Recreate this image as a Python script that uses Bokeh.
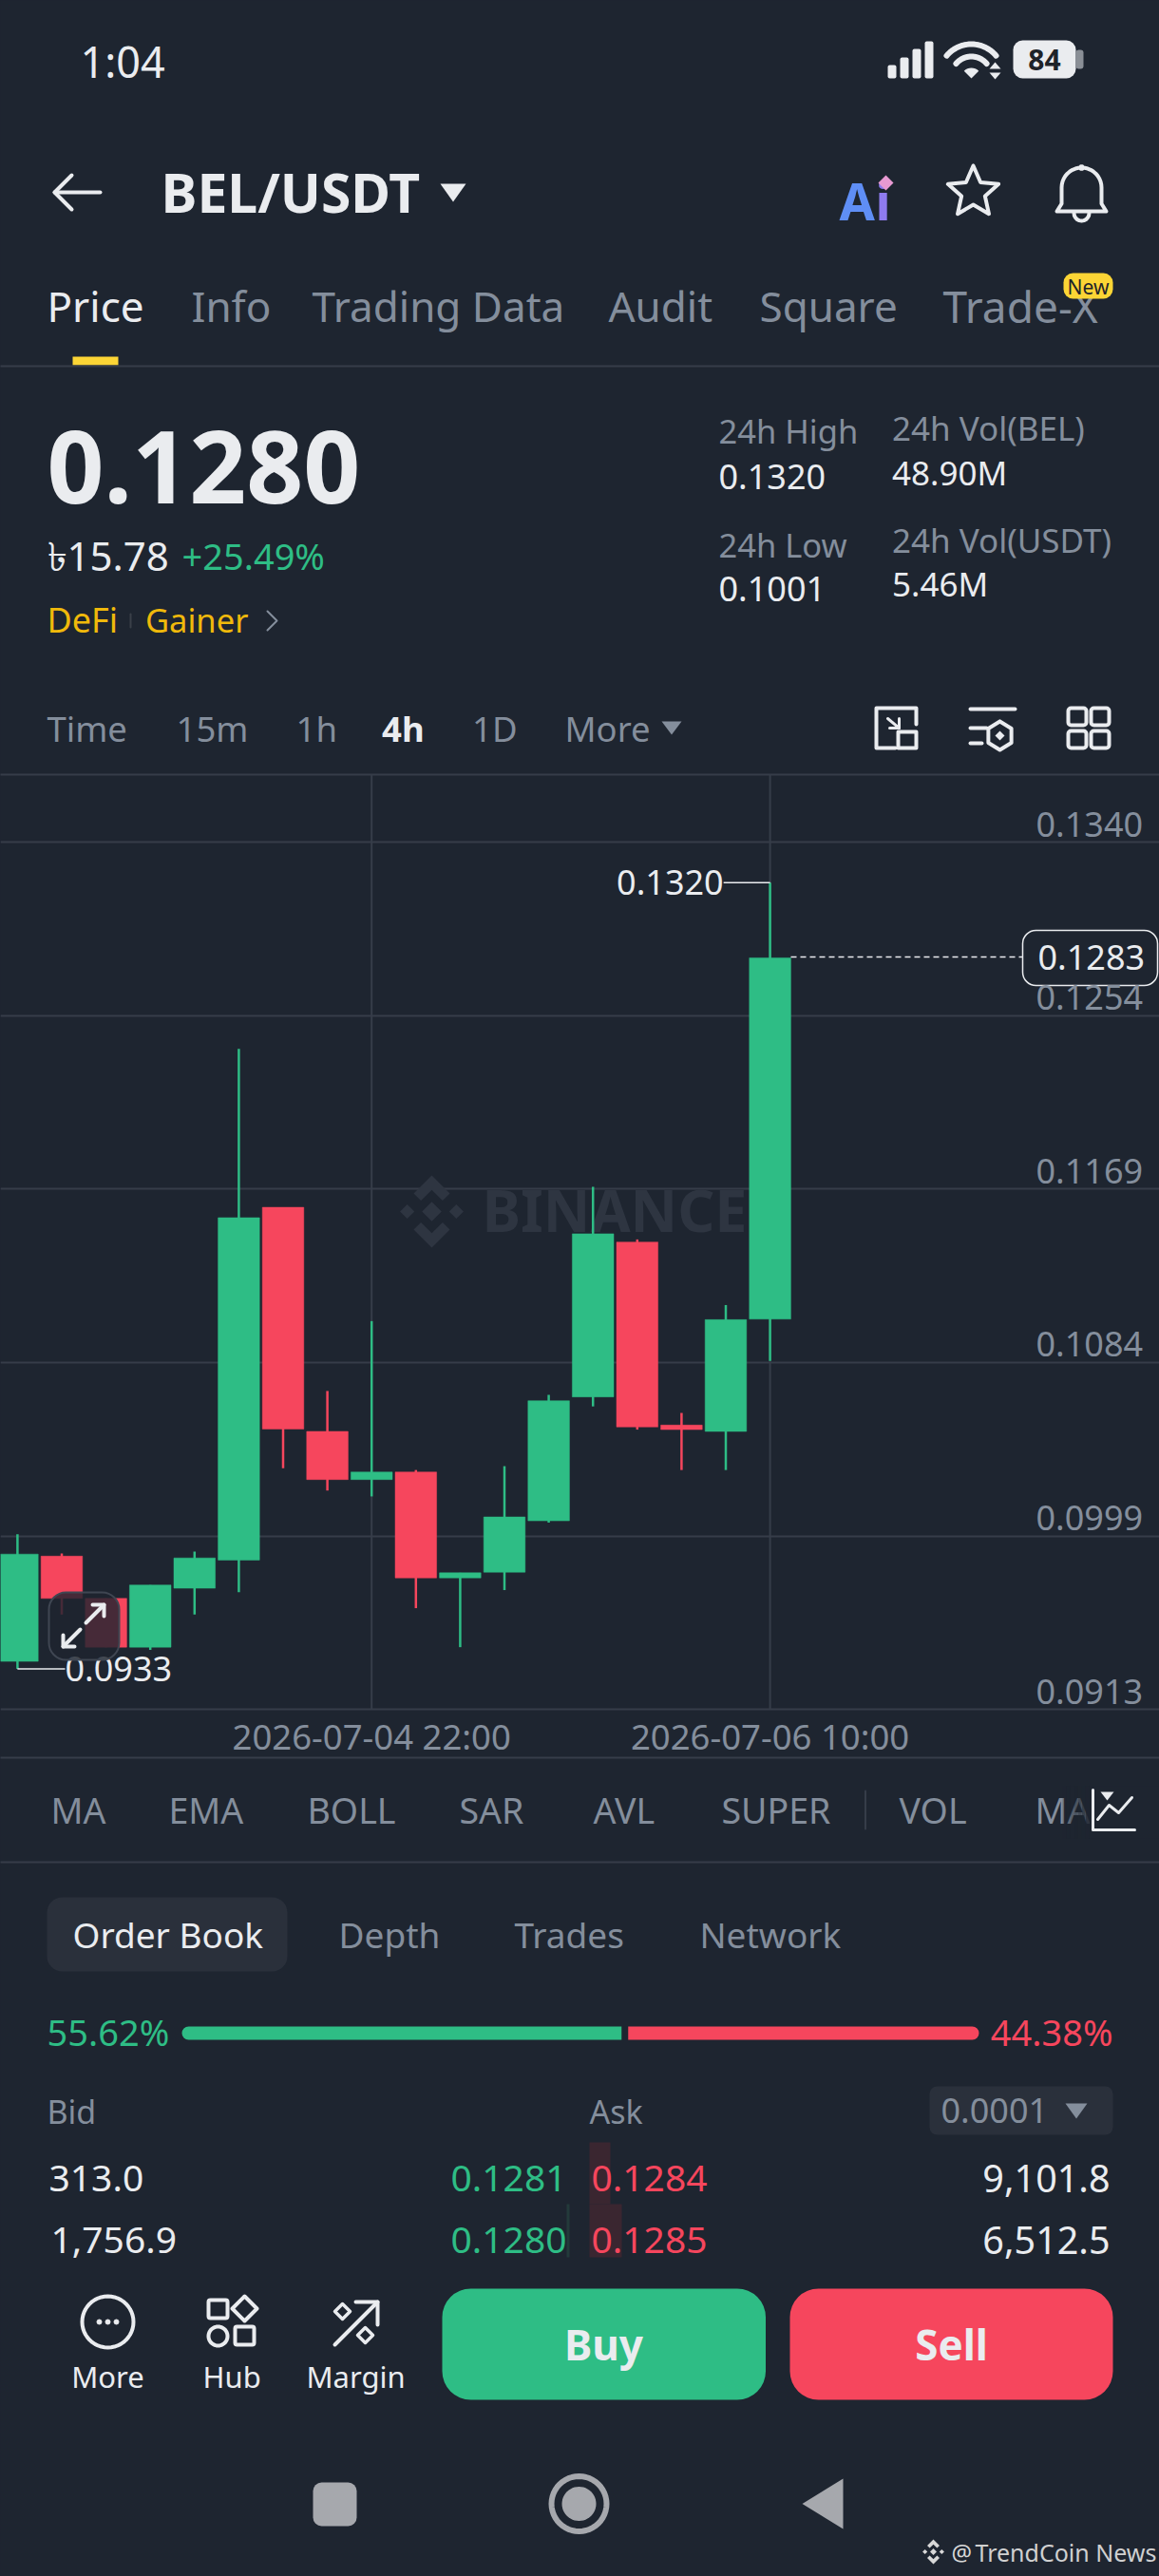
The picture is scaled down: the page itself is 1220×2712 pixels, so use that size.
import math
from bokeh.plotting import figure
from bokeh.embed import file_html
from bokeh.resources import INLINE
from bokeh.core.properties import value
from bokeh.models import Range1d, LinearAxis, FixedTicker, Grid, ColumnDataSource

# ---- chart data ----
candle_index = list(range(18))
candle_open  = [0.09367,0.09885,0.09677,0.09437,0.09727,0.09866,0.11602,0.10499,0.10262,0.10299,0.09778,0.09806,0.10059,0.10669,0.11431,0.1053,0.10499,0.11052]
candle_close = [0.09895,0.09677,0.09437,0.09743,0.09876,0.11551,0.10511,0.10262,0.10299,0.09778,0.09803,0.10078,0.1065,0.11472,0.10521,0.10508,0.11049,0.1283]
candle_high  = [0.09993,0.09898,0.09677,0.09743,0.09908,0.12382,0.11602,0.10698,0.11042,0.10309,0.09803,0.10328,0.10679,0.11703,0.11444,0.1059,0.11121,0.1320]
candle_low   = [0.0933,0.09598,0.09437,0.09424,0.09598,0.09708,0.10318,0.10208,0.10179,0.09629,0.09437,0.09718,0.1005,0.10622,0.10508,0.10309,0.10309,0.10846]
price_ticks  = [0.1340,0.12546,0.11692,0.10838,0.09984,0.0913]
price_labels = ["0.1340","0.1254","0.1169","0.1084","0.0999","0.0913"]
time_ticks   = [8,17]
time_labels  = ["2026-07-04 22:00","2026-07-06 10:00"]
last_price = 0.1283
high_price = 0.1320
low_price = 0.0933
tabs = ["Price","Info","Trading Data","Audit","Square","Trade-X"]
intervals = ["Time","15m","1h","4h","1D","More"]
indicators = ["MA","EMA","BOLL","SAR","AVL","SUPER","VOL","MA"]
book_tabs = ["Order Book","Depth","Trades","Network"]
bid_qty = ["313.0","1,756.9"]
bid_price = ["0.1281","0.1280"]
ask_price = ["0.1284","0.1285"]
ask_qty = ["9,101.8","6,512.5"]
bid_share = 55.62
ask_share = 44.38

# ---- colours ----
BG="#1E2530"; WHITE="#EAECEF"; GRAY="#848E9C"; GREEN="#2EBD85"; RED="#F6465D"; YEL="#F0B90B"; LINE="#363D49"; PILL="#2A303B"
FONT=value("Noto Sans")

W,H=1220,2712
p=figure(width=W,height=H,x_range=Range1d(0,W),y_range=Range1d(H,0),x_axis_type=None,y_axis_type=None,
         min_border=0,toolbar_location=None,output_backend="svg",background_fill_color=BG,border_fill_color=BG,outline_line_color=None)
p.xgrid.visible=False; p.ygrid.visible=False

# secondary scales: price and candle index, tied to the page's pixel grid
k=(0.1340-0.0913)/(1799.3-886.0)
p.extra_y_ranges={"price":Range1d(0.0913-(H-1799.3)*k,0.1340+886.0*k),
                  "price_label":Range1d(0.0913-(H-1799.3+19.0)*k,0.1340+(886.0-19.0)*k)}
dx=46.6; x0=17.9
p.extra_x_ranges={"idx":Range1d((0-x0)/dx,(W-x0)/dx)}

def T(x,y,s,size,color=WHITE,align="left",bold=False,font=FONT):
    p.text(x=[x],y=[y-2],text=[s],text_font=font,text_font_size=f"{size}px",text_color=color,text_align=align,
           text_baseline="middle",text_font_style="bold" if bold else "normal")
def L(xs,ys,color=WHITE,w=4,dash="solid"):
    p.line(xs,ys,line_color=color,line_width=w,line_dash=dash,line_cap="round",line_join="round")
def R(l,r,t,b,fill,radius=0,line=None,lw=1,alpha=1.0):
    p.quad(left=[l],right=[r],top=[t],bottom=[b],fill_color=fill,fill_alpha=alpha,line_color=line,line_width=lw,border_radius=radius)
def P(xs,ys,fill,line=None,lw=1):
    p.patch(xs,ys,fill_color=fill,line_color=line,line_width=lw,line_join="round")
def circ(cx,cy,r,a0=0,a1=360,n=48):
    return ([cx+r*math.cos(math.radians(a0+(a1-a0)*i/n)) for i in range(n+1)],
            [cy+r*math.sin(math.radians(a0+(a1-a0)*i/n)) for i in range(n+1)])
def dia(cx,cy,r):
    return [cx,cx+r,cx,cx-r],[cy-r,cy,cy+r,cy]
def logo(cx,cy,s,color):
    for (a,b,r) in [(0,0,.27),(-.68,0,.2),(.68,0,.2)]:
        x,y=dia(cx+a*s,cy+b*s,r*s); P(x,y,color)
    P([cx,cx+.5*s,cx+.3*s,cx,cx-.3*s,cx-.5*s],[cy-s,cy-.5*s,cy-.3*s,cy-.6*s,cy-.3*s,cy-.5*s],color)
    P([cx,cx+.5*s,cx+.3*s,cx,cx-.3*s,cx-.5*s],[cy+s,cy+.5*s,cy+.3*s,cy+.6*s,cy+.3*s,cy+.5*s],color)

# ---- status bar ----
T(84,66,"1:04",45,WHITE)
for bx_,bt in zip([934,947,960,973],[68,60,51,43]):
    R(bx_,bx_+9,bt,82,WHITE,radius=2)
for r in (34,21):
    x,y=circ(1022,80,r,-140,-40,24); L(x,y,WHITE,6)
x,y=circ(1022,82,11,-135,-45,8); P(x+[1022],y+[82],WHITE)
P([1041,1047,1053],[72,65,72],WHITE); P([1041,1047,1053],[76,83,76],WHITE)
R(1066,1132,42,82,WHITE,radius=10)
R(1132,1140,52,72,"#8A8F96",radius=3)
T(1099,64,"84",30,"#1E2329","center",True)

# ---- header ----
L([105,57],[202,202]); L([75,57,75],[184,202,220])
T(169,203,"BEL/USDT",57,WHITE,bold=True)
P([463,490,476.5],[193,193,212],WHITE)
T(883,212,"A",54,"#5F8EF5",bold=True); T(921,212,"i",54,"#8F7BEF",bold=True)
x,y=dia(932,192,8); P(x,y,"#E79AD2")
sx=[1024+(28 if i%2==0 else 13)*math.sin(math.pi*i/5) for i in range(11)]
sy=[202-(28 if i%2==0 else 13)*math.cos(math.pi*i/5) for i in range(11)]
L(sx,sy,WHITE,4)
dx_,dy_=circ(1138,197,21,180,360,20)
L([1112,1117]+dx_+[1159,1164,1112],[222,214]+dy_+[214,222,222],WHITE,4)
x,y=circ(1138,224,8,0,180,10); L(x,y,WHITE,4)
x,y=circ(1138,176,2,0,360,6); L(x,y,WHITE,3)

# ---- tabs ----
for s,x in zip(tabs,[49,201,328,640,799,992]):
    T(x,323,s,46 if s=="Trade-X" else 44,WHITE if s=="Price" else GRAY)
R(1119,1171,287,314,"#FCD535",radius=10)
T(1145,303,"New",21,"#1E2329","center")
R(76,124,375,384,"#FCD535")
L([0,1220],[385,385],LINE,2)

# ---- ticker block ----
T(49,493,"0.1280",105,WHITE,bold=True)
T(49,586,"৳15.78",42,WHITE)
T(191,586,"+25.49%",38,GREEN)
T(49,654,"DeFi",36,YEL); T(152.5,654,"Gainer",34.5,YEL)
L([137,137],[646,660],"#3A4049",2)
L([281,291,281],[643,653,663],GRAY,2)
for x,y,s,c,sz in [(756,455,"24h High",GRAY,34.5),(756,503,"0.1320",WHITE,36),(938.5,451.5,"24h Vol(BEL)",GRAY,35),(938.5,499,"48.90M",WHITE,35),
                (756,575,"24h Low",GRAY,34.5),(756,621,"0.1001",WHITE,36),(938.5,570,"24h Vol(USDT)",GRAY,35),(938.5,616,"5.46M",WHITE,35)]:
    T(x,y,s,sz,c)

# ---- interval row ----
for s,x in zip(intervals,[49,185,311,401.5,496.5,594]):
    T(x,768,s,36.5,WHITE if s=="4h" else GRAY,bold=(s=="4h"))
P([696,717,706.5],[759,759,773],GRAY)
L([942,922,922,964,964],[787,787,745,745,762],WHITE,4)
L([945,964,964,945,945],[770,770,787,787,770],WHITE,4)
L([934,946],[756,766],WHITE,3); L([946,946,936],[756,766,766],WHITE,3)
L([1021,1068],[746,746],WHITE,4); L([1021,1038],[766,766],WHITE,4); L([1021,1033],[782,782],WHITE,4)
hx=[1052+14*math.sin(math.pi*i/3) for i in range(7)]; hy=[774-15*math.cos(math.pi*i/3) for i in range(7)]
L(hx,hy,WHITE,4); x,y=dia(1052,774,5); P(x,y,WHITE)
for (l,t) in [(1124,745),(1148,745),(1124,769),(1148,769)]:
    R(l,l+19,t,t+18,None,radius=3,line=WHITE,lw=4)

# ---- chart frame and grid ----
L([0,1220],[815,815],LINE,2)
grid=Grid(dimension=1,y_range_name="price",ticker=FixedTicker(ticks=price_ticks),grid_line_color=LINE,grid_line_width=2)
p.add_layout(grid)
p.segment(x0=time_ticks,x1=time_ticks,y0=[815]*2,y1=[1799]*2,x_range_name="idx",line_color=LINE,line_width=2)

# watermark
logo(454,1275,38,"#2E3541")
T(507,1275,"BINANCE",61,"#2E3541",bold=True)

# ---- candles ----
up=[c>=o for o,c in zip(candle_open,candle_close)]
cols=[GREEN if u else RED for u in up]
src=ColumnDataSource(dict(x=candle_index,top=[max(a,b) for a,b in zip(candle_open,candle_close)],bottom=[min(a,b) for a,b in zip(candle_open,candle_close)],
                          high=candle_high,low=candle_low,color=cols))
p.segment(x0="x",x1="x",y0="low",y1="high",source=src,line_color="color",line_width=2.5,x_range_name="idx",y_range_name="price")
p.vbar(x="x",top="top",bottom="bottom",width=43.6/dx,source=src,fill_color="color",line_color="color",line_width=0.5,x_range_name="idx",y_range_name="price")

# hi / lo annotations
p.segment(x0=[0,15.95],x1=[1.075,17],y0=[low_price,high_price],y1=[low_price,high_price],line_color=WHITE,line_width=1.5,x_range_name="idx",y_range_name="price")
p.text(x=[1.075],y=[low_price],text=[f"{low_price:.4f}"],text_font=FONT,text_font_size="36px",text_color=WHITE,text_baseline="middle",x_range_name="idx",y_range_name="price")
p.text(x=[15.95],y=[high_price],text=[f"{high_price:.4f}"],text_font=FONT,text_font_size="36px",text_color=WHITE,text_baseline="middle",text_align="right",x_range_name="idx",y_range_name="price")

# expand button
R(51,125,1676,1747,"#1E2530",radius=18,line="#3F4652",lw=2,alpha=0.82)
L([90,109],[1708,1689]); L([97,109,109],[1689,1689,1701])
L([84,66],[1715,1733]); L([66,66,78],[1721,1733,1733])

# axis tick labels (real axes, fixed inside the frame)
ax=LinearAxis(y_range_name="price_label",ticker=FixedTicker(ticks=price_ticks),major_label_overrides=dict(zip(price_ticks,price_labels)),
              fixed_location=1084,axis_line_color=None,major_tick_line_color=None,minor_tick_line_color=None,major_label_standoff=0,
              major_label_text_color=GRAY,major_label_text_font="Noto Sans",major_label_text_font_size="36px")
p.add_layout(ax,"right")
bx=LinearAxis(x_range_name="idx",ticker=FixedTicker(ticks=time_ticks),major_label_overrides=dict(zip(time_ticks,time_labels)),
              fixed_location=1796,axis_line_color=None,major_tick_line_color=None,minor_tick_line_color=None,major_label_standoff=0,
              major_label_text_color=GRAY,major_label_text_font="Noto Sans",major_label_text_font_size="36.5px")
p.add_layout(bx,"below")

# last price tag
p.segment(x0=[832],x1=[1076],y0=[1007],y1=[1007],line_color=WHITE,line_width=1.5,line_dash="6 4")
R(1076,1218,979,1037,BG,radius=14,line=WHITE,lw=1.5)
T(1092,1009,f"{last_price:.4f}",36,WHITE)

# ---- indicators row ----
L([0,1220],[1850,1850],LINE,2)
for s,x in zip(indicators,[53,177,323,483,624,759,946,1089]):
    T(x,1907,s,37.5,GRAY)
L([910.5,910.5],[1885,1925],LINE,2)
for i in range(8):
    R(1118+i*4,1122+i*4,1880,1935,BG,alpha=0.25+0.1*i)
R(1146,1220,1880,1935,BG)
L([1150,1150,1194],[1884,1926,1926],WHITE,3); L([1155,1167,1177,1191],[1915,1900,1908,1892],WHITE,3)
P([1158,1172,1165],[1886,1886,1895],WHITE)
L([0,1220],[1960,1960],LINE,2)

# ---- order book tabs ----
R(49,302,1997,2075,PILL,radius=16)
for s,x in zip(book_tabs,[76,356,541,736]):
    T(x,2038,s,37,WHITE if s=="Order Book" else GRAY)

# ---- ratio bar ----
T(49,2140,f"{bid_share:.2f}%",38,GREEN)
T(1171,2140,f"{ask_share:.2f}%",38,RED,"right")
split=191+(1030-7-191)*bid_share/(bid_share+ask_share)
R(191,split,2133,2147,GREEN,radius=(7,0,0,7))
R(split+7,1030,2133,2147,RED,radius=(0,7,7,0))

T(49,2224,"Bid",34,GRAY); T(620,2224,"Ask",34,GRAY)
R(978,1171,2196,2247,PILL,radius=8)
T(990,2223,"0.0001",36,GRAY); P([1121,1144,1132.5],[2214,2214,2230],GRAY)

R(620,642,2255,2320,"#3A2630"); R(620,654,2320,2376,"#3A2630"); R(596,599,2320,2376,"#233A3A")
for y,a,b,c,d,x1 in zip([2295,2360],bid_qty,bid_price,ask_price,ask_qty,[51,53]):
    T(x1,y,a,39,WHITE); T(596,y,b,39,GREEN,"right"); T(622,y,c,39,RED); T(1168,y,d,39.5,WHITE,"right")

# ---- action bar ----
x,y=circ(113,2444,27); L(x,y,WHITE,4)
for d in (-9,0,9):
    p.scatter([113+d],[2444],size=5,color=WHITE)
R(219,239,2421,2440,None,radius=2,line=WHITE,lw=4)
x,y=dia(257,2430,13); L(x+x[:1],y+y[:1],WHITE,4)
x,y=circ(229,2459,10); L(x,y,WHITE,4)
R(247,267,2449,2468,None,radius=2,line=WHITE,lw=4)
x,y=dia(360,2433,8); L(x+x[:1],y+y[:1],WHITE,3.5)
x,y=dia(384,2458,8); L(x+x[:1],y+y[:1],WHITE,3.5)
L([352,397],[2468,2423],WHITE,4); L([374,397,397],[2423,2423,2447],WHITE,4)
for s,cx in zip(["More","Hub","Margin"],[113,243.6,374]):
    T(cx,2503,s,31,WHITE,"center")
R(465,805.5,2409,2526,GREEN,radius=30); R(831,1171,2409,2526,RED,radius=30)
T(635,2469,"Buy",44,WHITE,"center",True); T(1001,2469,"Sell",44,WHITE,"center",True)

# ---- android nav ----
NAV="#A6A8AD"
R(329,375,2613,2659,NAV,radius=9)
x,y=circ(609,2635.5,29); L(x,y,NAV,6)
x,y=circ(609,2635.5,18); P(x,y,NAV)
P([887,887,844],[2609,2662,2635.5],NAV)

# ---- corner credit ----
logo(982,2686,13,"#D8D8D8")
T(1001,2688,"@",24,"#D8D8D8"); T(1026,2688,"TrendCoin News",25,"#D0D0D0")

html=file_html(p,INLINE,title="BEL/USDT")
html=html.replace("<body>",f'<body style="background:{BG}">')
open("out.html","w").write(html)
